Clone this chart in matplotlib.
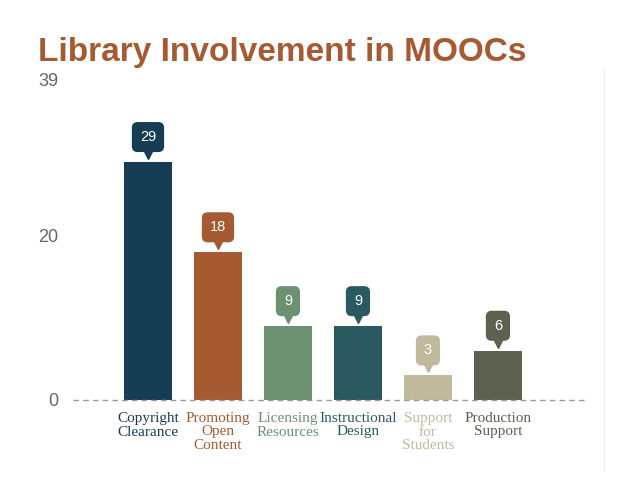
import matplotlib
matplotlib.use("Agg")
import matplotlib.pyplot as plt
from matplotlib.transforms import offset_copy

categories = ["Copyright\nClearance", "Promoting\nOpen\nContent", "Licensing\nResources",
              "Instructional\nDesign", "Support\nfor\nStudents", "Production\nSupport"]
values = [29, 18, 9, 9, 3, 6]
colors = ["#173d55", "#a65a32", "#6b9170", "#2a5a60", "#c1b99c", "#5d6150"]
yticks = [0, 20, 39]

fig = plt.figure(figsize=(6.38, 4.79), dpi=100)
ax = fig.add_axes([78/638, 1-400/479, 520/638, 320/479])
ax.set_xlim(-1, 6.43)
ax.set_ylim(0, 39)
x = list(range(len(values)))
ax.bar(x, values, width=0.686, color=colors, zorder=2)
ax.axhline(0, xmin=-0.01, xmax=0.98, color="#999999", ls=(0, (4, 3)), lw=1, zorder=3, clip_on=False)

for i, v in enumerate(values):
    ttext = offset_copy(ax.transData, fig=fig, x=0, y=25, units="dots")
    ax.text(i, v, str(v), transform=ttext, ha="center", va="center", color="white",
            fontsize=10.5, family="Liberation Sans",
            bbox=dict(boxstyle="round,pad=0.55,rounding_size=0.4", fc=colors[i], ec="none"))
    ttri = offset_copy(ax.transData, fig=fig, x=0, y=9, units="dots")
    ax.plot(i, v, marker="v", ms=9, color=colors[i], transform=ttri, clip_on=False)
    ax.text(i, 0, categories[i], transform=offset_copy(ax.transData, fig=fig, x=0, y=-12, units="dots"),
            ha="center", va="top", color=colors[i], fontsize=11, family="Liberation Serif",
            linespacing=1.05)

ax.set_xticks([])
ax.set_yticks(yticks)
ax.set_yticklabels([str(t) for t in yticks], fontsize=13, color="#666666", family="Liberation Sans")
ax.tick_params(axis="y", length=0, pad=14)
for s in ax.spines.values():
    s.set_visible(False)

fig.add_artist(plt.Line2D([604/638, 604/638], [1-70/479, 1-470/479], color="#eeeeee", lw=1))
fig.text(38/638, 1-52/479, "Library Involvement in MOOCs", fontsize=24, fontweight="bold",
         color="#a65a32", family="Liberation Sans", va="center", ha="left")

fig.savefig("out.png", dpi=100)
